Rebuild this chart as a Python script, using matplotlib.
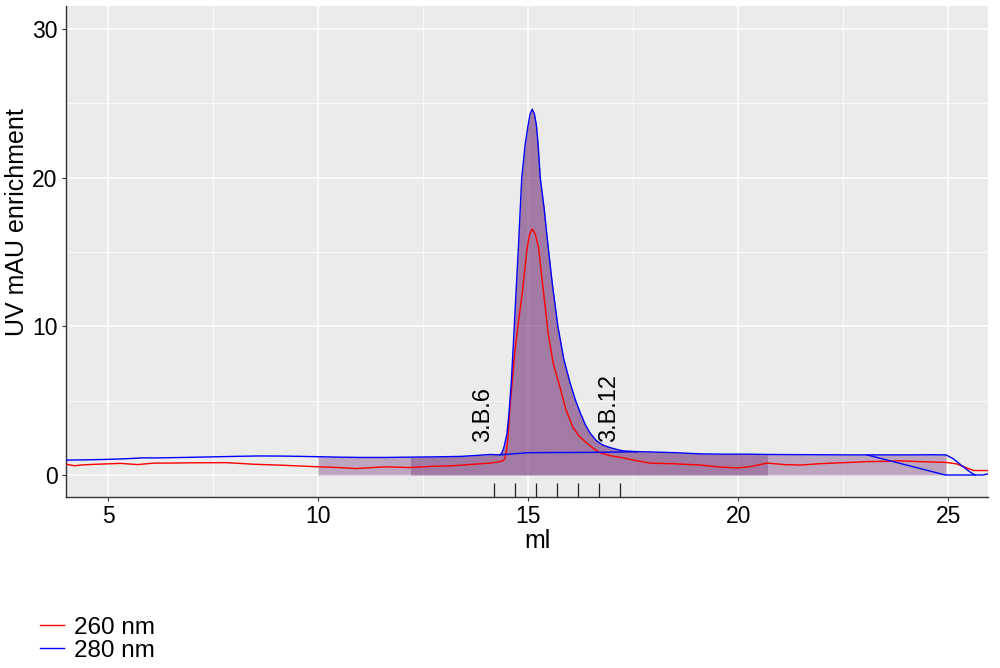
import numpy as np
import matplotlib
matplotlib.use("Agg")
from matplotlib import pyplot as plt
from matplotlib.ticker import MultipleLocator

plt.rcParams['font.family'] = ['Liberation Sans', 'DejaVu Sans']

# 280 nm trace (ml, mAU)
x280 = [4.0, 4.5, 5.0, 5.5, 5.8, 6.2, 6.8, 7.5, 8.0, 8.6, 9.2, 10.0, 10.5, 11.0,
        11.6, 12.2, 12.8, 13.4, 13.8, 14.1, 14.33, 14.38, 14.43, 14.5, 14.55,
        14.6, 14.65, 14.7, 14.77, 14.85, 14.93, 15.0, 15.05, 15.1, 15.15,
        15.2, 15.24, 15.29, 15.38, 15.48, 15.58, 15.71, 15.85, 16.0, 16.12,
        16.24, 16.36, 16.48, 16.63, 16.79, 17.0, 17.26, 17.6, 17.9, 18.5, 19.1,
        19.6, 20.2, 20.7, 21.3, 22.0, 22.6, 23.07, 23.6, 24.2, 24.6, 24.95,
        25.12, 25.36, 25.52, 25.64, 25.83, 25.95]
y280 = [1.0, 1.02, 1.05, 1.1, 1.15, 1.15, 1.18, 1.22, 1.25, 1.28, 1.27, 1.23,
        1.2, 1.18, 1.18, 1.2, 1.22, 1.25, 1.32, 1.38, 1.35, 1.5, 1.9, 2.8, 4.3,
        6.2, 8.8, 11.5, 15.3, 20.0, 22.2, 23.5, 24.3, 24.6, 24.3, 23.5, 22.2,
        20.0, 18.0, 15.3, 12.8, 10.0, 7.8, 6.2, 5.1, 4.2, 3.4, 2.8, 2.3, 2.0,
        1.8, 1.62, 1.57, 1.55, 1.5, 1.42, 1.4, 1.4, 1.38, 1.37, 1.36, 1.35,
        1.35, 1.35, 1.35, 1.36, 1.35, 1.1, 0.55, 0.2, 0.0, 0.0, 0.07]

# 260 nm trace
x260 = [4.0, 4.2, 4.4, 4.7, 5.0, 5.3, 5.7, 6.1, 6.5, 7.0, 7.8, 8.5, 9.2, 10.0,
        10.5, 10.9, 11.3, 11.6, 12.2, 12.7, 13.2, 13.7, 14.1, 14.33, 14.4,
        14.45, 14.5, 14.54, 14.57, 14.63, 14.69, 14.78, 14.86, 14.93, 14.98,
        15.04, 15.1, 15.17, 15.25, 15.32, 15.4, 15.48, 15.6, 15.76, 15.9,
        16.07, 16.22, 16.4, 16.55, 16.71, 16.95, 17.26, 17.6, 17.9, 18.5, 19.1,
        19.5, 19.98, 20.29, 20.69, 21.1, 21.48, 21.9, 22.26, 22.7, 23.07, 23.5,
        23.86, 24.3, 24.64, 24.93, 25.2, 25.45, 25.6, 25.8, 25.95]
y260 = [0.73, 0.62, 0.68, 0.72, 0.75, 0.78, 0.7, 0.8, 0.8, 0.82, 0.83, 0.72,
        0.65, 0.55, 0.5, 0.43, 0.5, 0.55, 0.5, 0.58, 0.62, 0.72, 0.8, 0.9,
        0.95, 1.1, 1.9, 3.3, 4.6, 6.5, 8.4, 10.5, 12.2, 14.0, 15.3, 16.2,
        16.55, 16.2, 15.3, 13.5, 11.5, 9.5, 7.5, 5.9, 4.4, 3.2, 2.6, 2.15, 1.8,
        1.5, 1.3, 1.15, 0.95, 0.8, 0.75, 0.67, 0.55, 0.47, 0.56, 0.8, 0.7,
        0.67, 0.75, 0.8, 0.85, 0.9, 0.92, 0.95, 0.9, 0.87, 0.85, 0.75, 0.47,
        0.3, 0.3, 0.3]

# integration baselines
peak_base_x = [14.33, 15.0, 16.5, 17.6]
peak_base_y = [1.35, 1.5, 1.52, 1.56]
tail_base_x = [23.07, 24.93, 25.64]
tail_base_y = [1.35, 0.0, 0.0]

# fraction pools
pool_outer = (10.0, 24.95)
pool_inner = (12.2, 20.7)

# fraction marks
frac_x = [14.19, 14.69, 15.19, 15.69, 16.19, 16.69, 17.19]
frac_labels = ['3.B.6', '', '', '', '', '', '3.B.12']

fig = plt.figure(figsize=(10, 6.68), dpi=100)
ax = fig.add_axes([0.066, 0.256, 0.922, 0.735])
ax.set_facecolor('#EBEBEB')

xa = np.array(x280)
ya = np.array(y280)
fill_col = '#7A3C7D'
ax.fill_between(xa, 0, ya, where=(xa >= pool_outer[0]) & (xa <= pool_outer[1]),
                color=fill_col, alpha=0.4, linewidth=0, zorder=2)
ax.fill_between(xa, 0, ya, where=(xa >= pool_inner[0]) & (xa <= pool_inner[1]),
                color=fill_col, alpha=0.4, linewidth=0, zorder=2)

ax.plot(x260, y260, color='red', lw=1.0, label='260 nm', zorder=3)
ax.plot(x280, y280, color='blue', lw=1.0, label='280 nm', zorder=4)
ax.plot(peak_base_x, peak_base_y, color='blue', lw=1.0, zorder=4)
ax.plot(tail_base_x, tail_base_y, color='blue', lw=1.0, zorder=4)

# fraction rug
ax.vlines(frac_x, -1.48, -0.55, color='#222222', lw=0.9, zorder=5)
for fx, lab in zip(frac_x, frac_labels):
    if lab:
        ax.text(fx, 2.2, lab, rotation=90, ha='right', va='bottom', fontsize=17)

ax.set_xlim(4.0, 25.95)
ax.set_ylim(-1.48, 31.54)
ax.xaxis.set_major_locator(MultipleLocator(5))
ax.xaxis.set_minor_locator(MultipleLocator(2.5))
ax.yaxis.set_major_locator(MultipleLocator(10))
ax.yaxis.set_minor_locator(MultipleLocator(5))
ax.grid(which='major', color='white', lw=1.1)
ax.grid(which='minor', color='white', lw=0.5)
ax.set_axisbelow(True)
ax.tick_params(which='major', length=3, color='#333333', labelsize=16.5,
               labelcolor='black', pad=3)
ax.tick_params(which='minor', length=0)
for s in ['top', 'right']:
    ax.spines[s].set_visible(False)
for s in ['left', 'bottom']:
    ax.spines[s].set_color('#333333')
    ax.spines[s].set_linewidth(1.0)

ax.set_xlabel('ml', fontsize=18)
ax.set_ylabel('UV mAU enrichment', fontsize=18)
ax.xaxis.set_label_coords(0.511, -0.065)
ax.yaxis.set_label_coords(-0.040, 0.56)

fig.legend(loc='upper left', bbox_to_anchor=(0.028, 0.095), frameon=False,
           fontsize=17.5, handlelength=1.0, handletextpad=0.4, labelspacing=0.05,
           borderpad=0)

plt.savefig('out.png', dpi=100)
